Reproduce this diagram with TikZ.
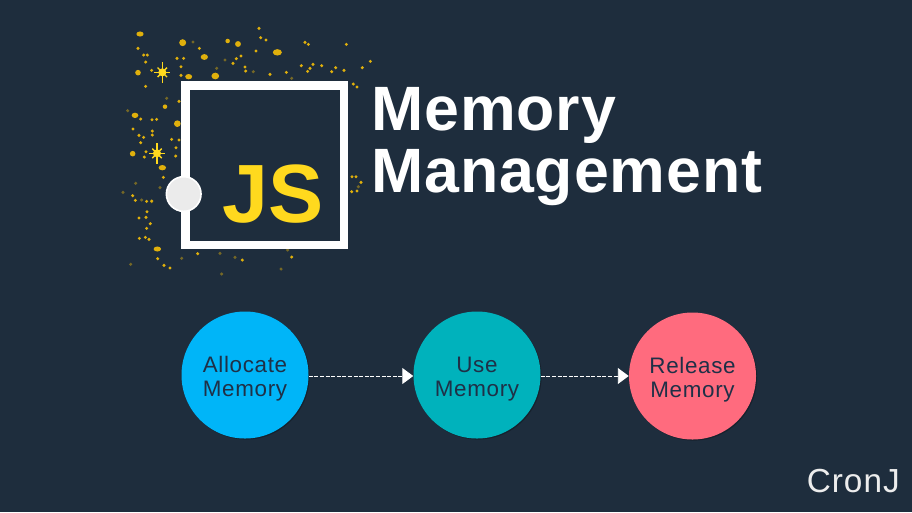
\documentclass[tikz,border=0pt]{standalone}
\usepackage{fontspec}
\setmainfont{Liberation Sans}
\usetikzlibrary{arrows.meta,shadows}
\definecolor{bgc}{HTML}{1E2D3D}
\definecolor{inkc}{HTML}{1F3047}
\definecolor{goldc}{HTML}{E0B00C}
\definecolor{jsc}{HTML}{FFD91E}
\definecolor{allocc}{HTML}{00B5F8}
\definecolor{usec}{HTML}{00B2BC}
\definecolor{relc}{HTML}{FF6B7E}
\newcommand{\lift}{\rule{0pt}{18pt}}
\tikzset{
  stepcircle/.style={circle,minimum size=95.25pt,inner sep=0pt,align=center,text=inkc,
    font=\fontsize{16.8}{17.6}\selectfont\addfontfeatures{LetterSpace=3},
    general shadow={fill=black,opacity=.25,shadow xshift=.8pt,shadow yshift=-.8pt}},
  flow/.style={white,line width=.7pt,dash pattern=on 3pt off 1.2pt,
    -{Triangle[length=8.2pt,width=12pt,fill=white]}},
  speck/.style={fill=goldc,draw=none},
  faint/.style={fill=goldc,opacity=.45,draw=none},
  raystar/.style={draw=jsc,line width=1pt}
}
\newcommand{\sparkle}[2]{%
  \begin{scope}[shift={(#1,#2)}]
    \foreach \a/\l in {0/6pt,90/8pt,180/6pt,270/8pt,45/5pt,135/5pt,225/5pt,315/5pt}
      \draw[raystar] (0,0) -- (\a:\l);
    \fill[jsc] (0,0) circle (3pt);
  \end{scope}}
\begin{document}
\begin{tikzpicture}[x=.75pt,y=-.75pt]
\fill[bgc] (0,0) rectangle (912,512);
\useasboundingbox (0,0) rectangle (912,512);
% speckle
\begin{scope}[shift={(110,20)},x=.25pt,y=-.25pt]
\foreach \x/\y in {447/25,452/53,468/60,709/73,585/67,595/73,84/85,101/105,112/105,107/126,201/115,221/115,268/85,393/108,369/130,379/116,438/93,125/151,213/166,213/140,480/163,529/157,574/137,609/133,635/137,600/145,593/154,665/155,677/143,702/151,757/143,781/124,405/141,407/153,730/192,741/201,107/199,207/244,92/297,126/299,140/298,69/327,127/333,127/345,87/346,101/352,92/368,185/358,198/383,108/395,103/411,197/408,207/360,160/472,68/527,76/541,110/544,125/543,111/575,87/594,108/592,121/611,110/625,88/655,106/652,117/658,143/716,162/736,180/744,263/701,397/720,545/711,726/470,738/470,753/487,725/515,741/513}
  \fill[speck] (\x,\y) circle (1.25pt);
\foreach \x/\y in {249/66,53/272,39/517,77/490,150/503,62/733,335/762,513/747,533/690,430/155,320/145,345/120,170/235,95/540,125/545,215/715,330/700,375/712,745/500,545/175}
  \fill[faint] (\x,\y) circle (1.3pt);
\foreach \x/\y/\rx/\ry in {90/42/2.7/1.9,218/68/2.6/2.6,283/111/2.7/2.2,384/72/2.2/2.2,353/63/1.7/1.7,502/97/3.4/2.4,236/170/2.6/2,316/168/2.9/2.5,84/158/2.1/2.1,75/286/2.5/2,202/311/2.5/2.5,68/401/2.1/2.1,157/443/2.8/2,142/687/2.8/1.9,165/260/1.7/1.7}
  \fill[speck] (\x,\y) ellipse ({\rx pt} and {\ry pt});
\sparkle{157}{157}
\sparkle{141}{400}
\end{scope}
% JS logo frame
\draw[white,line width=6.4pt] (185.5,85.5) rectangle (344,245);
\node[circle,fill=black!8,draw=white,line width=1.2pt,minimum size=26pt,inner sep=0pt] (knob) at (183.7,194) {};
\node[anchor=base,inner sep=0pt,text=jsc,font=\fontsize{62}{62}\selectfont\bfseries] (js) at (273.5,222) {JS};
% title
\node[anchor=base west,inner sep=0pt,text=white,font=\fontsize{47}{47}\selectfont\bfseries\addfontfeatures{LetterSpace=1.4}] (t1) at (371,130) {Memory};
\node[anchor=base west,inner sep=0pt,text=white,font=\fontsize{47}{47}\selectfont\bfseries\addfontfeatures{LetterSpace=1.4}] (t2) at (371,192) {Management};
% steps
\node[stepcircle,fill=allocc] (a) at (245,375) {\lift Allocate\\Memory};
\node[stepcircle,fill=usec] (b) at (477,375) {\lift Use\\Memory};
\node[stepcircle,fill=relc] (c) at (692.5,376) {\lift Release\\Memory};
\draw[flow] ([yshift=-.75pt]a.east) -- ([yshift=-.75pt]b.west);
\draw[flow] ([yshift=-.75pt]b.east) -- (c.west);
\node[anchor=base east,inner sep=0pt,text=white!93!black,font=\fontsize{25}{25}\selectfont\addfontfeatures{LetterSpace=3}] (brand) at (900,492) {CronJ};
\end{tikzpicture}
\end{document}
